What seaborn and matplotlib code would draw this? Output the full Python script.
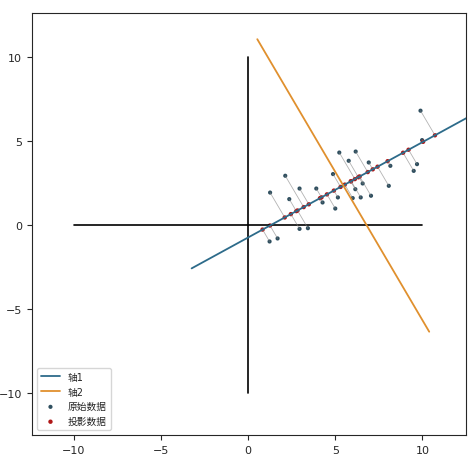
import numpy as np
import matplotlib
matplotlib.use("Agg")
import matplotlib.pyplot as plt
import seaborn as sns

xs = [1.23, 1.69, 1.26, 2.13, 2.36, 2.95, 2.95, 3.43, 3.91, 4.27, 5.0, 4.87, 5.15, 5.23,
      5.77, 6.17, 6.15, 6.0, 6.46, 6.57, 7.05, 6.92, 8.07, 8.16, 9.5, 9.69, 9.89, 9.98]
ys = [-0.99, -0.81, 1.92, 2.92, 1.53, 2.16, -0.24, -0.20, 2.16, 1.33, 0.97, 3.02, 1.63, 4.30,
      3.81, 4.36, 2.12, 1.59, 1.63, 2.46, 1.73, 3.71, 2.32, 3.51, 3.21, 3.61, 6.79, 5.04]

sns.set_style("ticks")
plt.rcParams['font.family'] = ['DejaVu Sans', 'Noto Sans CJK SC']
plt.rcParams['axes.unicode_minus'] = True

X = np.column_stack([xs, ys])
mu = X.mean(axis=0)
w, V = np.linalg.eigh(np.cov((X - mu).T))
v1 = V[:, np.argmax(w)]
v2 = V[:, np.argmin(w)]
if v1[0] < 0: v1 = -v1
if v2[1] < 0: v2 = -v2
proj = mu + np.outer((X - mu) @ v1, v1)

fig = plt.figure(figsize=(4.74, 4.56), dpi=100)
ax = fig.add_axes([32/474, 20/456, 434/474, 422/456])

ax.plot([-10, 10], [0, 0], color='black', lw=1.2)
ax.plot([0, 0], [-10, 10], color='black', lw=1.2)
for p, q in zip(X, proj):
    ax.plot([p[0], q[0]], [p[1], q[1]], color='gray', lw=0.6, alpha=0.6)

t = np.array([-10, 10])
l1 = mu + np.outer(t, v1)
l2 = mu + np.outer(t, v2)
sns.lineplot(x=l1[:, 0], y=l1[:, 1], ax=ax, color='#2d6b8a', lw=1.3, label='轴1', sort=False)
sns.lineplot(x=l2[:, 0], y=l2[:, 1], ax=ax, color='#e0902e', lw=1.3, label='轴2', sort=False)
sns.scatterplot(x=X[:, 0], y=X[:, 1], ax=ax, color='#2f4f5f', s=9, edgecolor='none', label='原始数据')
sns.scatterplot(x=proj[:, 0], y=proj[:, 1], ax=ax, color='#b01818', s=10, edgecolor='none', label='投影数据')

ax.set_xlim(-12.4, 12.5)
ax.set_ylim(-12.5, 12.6)
ax.set_xticks([-10, -5, 0, 5, 10])
ax.set_yticks([-10, -5, 0, 5, 10])
ax.tick_params(labelsize=8)
ax.legend(loc='lower left', fontsize=7)
fig.savefig('out.png', dpi=100)
